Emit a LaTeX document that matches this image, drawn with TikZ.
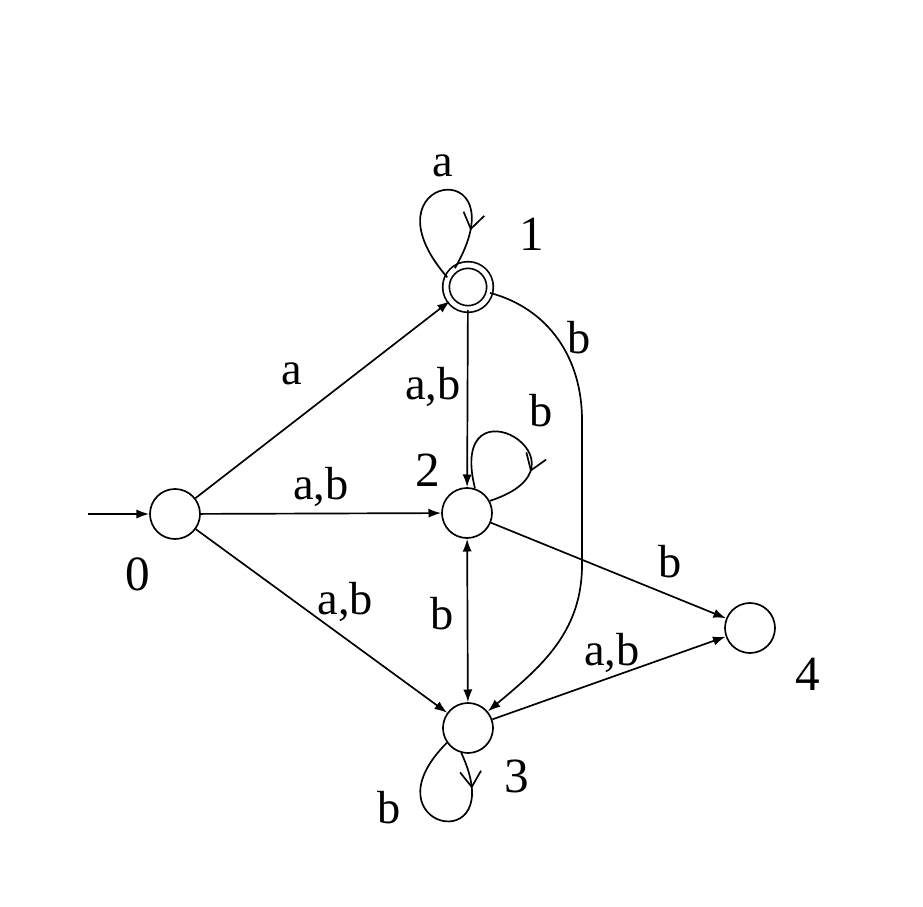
\documentclass[tikz,border=0pt]{standalone}
\usepackage{fontspec}
\setmainfont{Liberation Serif}
\usetikzlibrary{arrows.meta,decorations.markings}

\begin{document}
\begin{tikzpicture}[x=0.025cm, y=-0.025cm, line width=1.2pt,
  >={Latex[length=9pt,width=6.5pt]},
  state/.style={circle, draw=black, minimum size=1.25cm, inner sep=0pt},
  accepting/.style={circle, draw=black, double, double distance=3.5pt, minimum size=1.1cm, inner sep=0pt},
  statenum/.style={font=\fontsize{35}{40}\selectfont},
  lbl/.style={font=\fontsize{33}{37}\selectfont},
  loopmark/.style={postaction={decorate}, decoration={markings, mark=at position #1 with {\arrow[line width=1.2pt]{Straight Barb[length=11pt,width=15pt]}}}}]
  \useasboundingbox (0,0) rectangle (923,907);

  \node (q0) [state] at (175,514) {};
  \node (q1) [accepting] at (468,287) {};
  \node (q2) [state] at (467,513) {};
  \node (q3) [state] at (468,728) {};
  \node (q4) [state] at (750,628) {};

  \node (l0) [statenum] at (138,574) {0};
  \node (l1) [statenum] at (532,234) {1};
  \node (l2) [statenum] at (428,470) {2};
  \node (l3) [statenum] at (517,776) {3};
  \node (l4) [statenum] at (808,674) {4};

  \coordinate (init) at (88,514);
  \coordinate (c1) at (582,420);
  \coordinate (c2) at (582,565);

  \path [->]
  (init) edge (q0)
  (q0) edge node [lbl, xshift=-22pt, yshift=18pt] {a} (q1)
  (q0) edge node [lbl, yshift=19pt] {a,b} (q2)
  (q0) edge node [lbl, xshift=17pt, yshift=13.5pt] {a,b} (q3)
  (q1) edge node [lbl, xshift=-24.5pt, yshift=8.5pt] {a,b} (q2)
  (q2) edge [<->] node [lbl, xshift=-18pt, yshift=5pt] {b} (q3)
  (q2) edge node [lbl, xshift=43.5pt, yshift=6pt] {b} (q4)
  (q3) edge node [lbl, xshift=2pt, yshift=18pt] {a,b} (q4)
  (q1.155) edge [-, loopmark=0.8, out=131, in=60, distance=3.4cm] node [lbl, yshift=17pt] {a} (q1.125)
  (q2.72) edge [-, loopmark=0.72, out=104, in=18, distance=3cm] node [lbl, xshift=19pt, yshift=18.5pt] {b} (q2.28)
  (q3.255) edge [-, loopmark=0.2, out=295, in=225, distance=3cm] node [lbl, xshift=-37pt, yshift=9pt] {b} (q3.215);

  \draw [->] (q1) to [out=-15, in=90] node [lbl, xshift=15pt, yshift=1pt] {b} (c1) -- (c2) to [out=-90, in=40] (q3);
\end{tikzpicture}
\end{document}
